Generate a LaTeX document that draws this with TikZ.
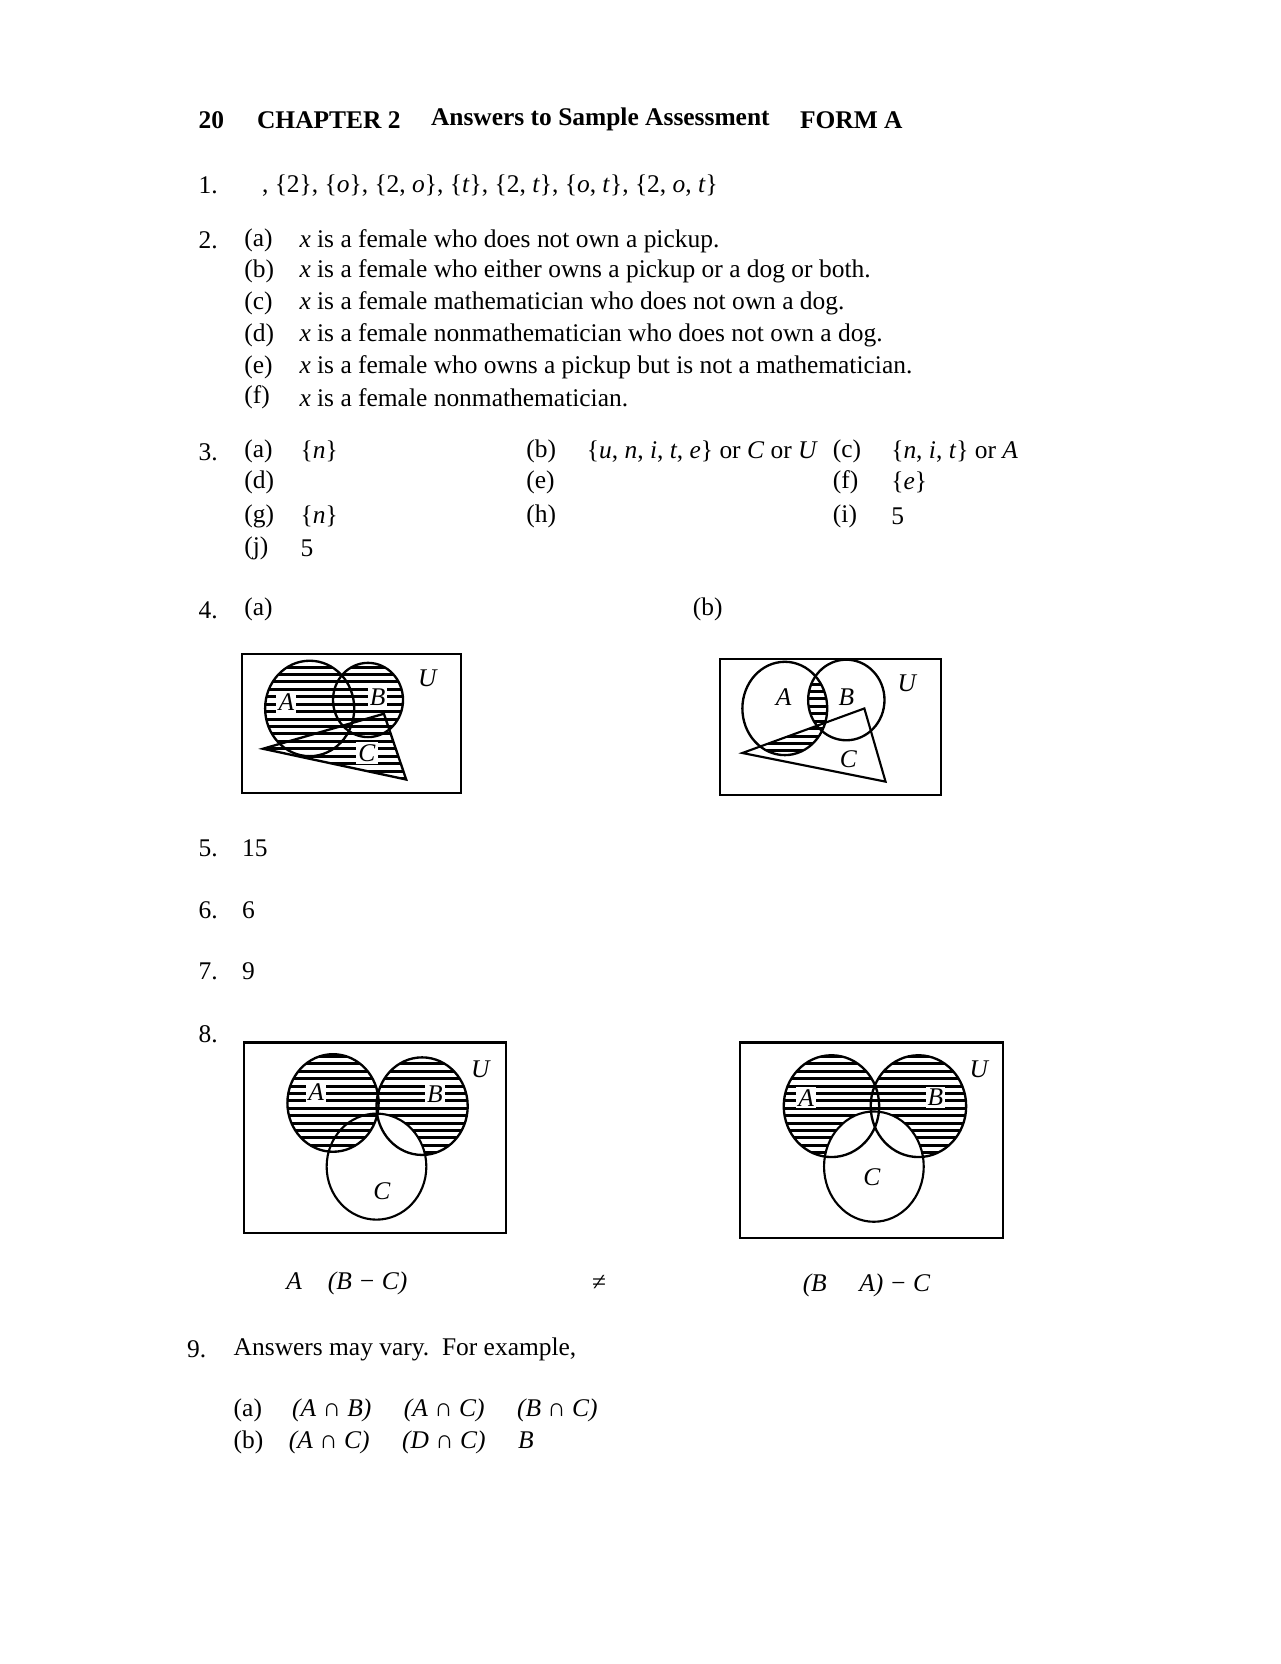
\documentclass[tikz,border=0pt]{standalone}
\usepackage{fontspec}
\setmainfont{Liberation Serif}
\begin{document}
\begin{tikzpicture}[x=0.5pt,y=-0.5pt,
  t/.style={anchor=west,inner sep=0pt,font=\fontsize{12}{14}\selectfont},
  hd/.style={anchor=west,inner sep=0pt,font=\fontsize{12}{14}\selectfont\bfseries},
  lab/.style={inner sep=0pt,font=\fontsize{12}{14}\selectfont\itshape},
  ub/.style={draw,line width=1pt},
  sh/.style={draw,line width=1.1pt}]
\useasboundingbox (0,0) rectangle (1207,1569);
\newcommand{\hatchlines}[4]{\pgfmathtruncatemacro\nnh{(#4-#2)/7}\foreach \kk in {0,...,\nnh}{\draw[line width=1.4pt] (#1,#2+7*\kk) -- (#3,#2+7*\kk);}}
% header
\node[hd] (h1) at (187,113) {20};
\node[hd] (h2) at (242,113) {CHAPTER 2};
\node[hd] (h3) at (406,113) {Answers to Sample Assessment};
\node[hd] (h4) at (754,113) {FORM A};
% Q1
\node[t] (q1) at (187,175) {1.};
\node[t] (q1a) at (228,175) {∅, \{2\}, \{\textit{o}\}, \{2, \textit{o}\}, \{\textit{t}\}, \{2, \textit{t}\}, \{\textit{o}, \textit{t}\}, \{2, \textit{o}, \textit{t}\}};
% Q2
\node[t] (q2) at (187,227) {2.};
\foreach \l/\yy/\txt in {a/227/{\textit{x} is a female who does not own a pickup.},
 b/256/{\textit{x} is a female who either owns a pickup or a dog or both.},
 c/286/{\textit{x} is a female mathematician who does not own a dog.},
 d/316/{\textit{x} is a female nonmathematician who does not own a dog.},
 e/346/{\textit{x} is a female who owns a pickup but is not a mathematician.},
 f/375/{\textit{x} is a female nonmathematician.}}{
 \node[t] (q2\l) at (230,\yy) {(\l)};
 \node[t] (q2\l t) at (282,\yy) {\txt};}
% Q3
\node[t] (q3) at (187,426) {3.};
\node[t] (q3a) at (230,426) {(a)}; \node[t] (q3at) at (283,426) {\{\textit{n}\}};
\node[t] (q3b) at (496,426) {(b)}; \node[t] (q3bt) at (553,426) {\{\textit{u}, \textit{n}, \textit{i}, \textit{t}, \textit{e}\} or \textit{C} or \textit{U}};
\node[t] (q3c) at (785,426) {(c)}; \node[t] (q3ct) at (840,426) {\{\textit{n}, \textit{i}, \textit{t}\} or \textit{A}};
\node[t] (q3d) at (230,455) {(d)}; \node[t] (q3dt) at (283,455) {∅};
\node[t] (q3e) at (496,455) {(e)}; \node[t] (q3et) at (553,455) {∅};
\node[t] (q3f) at (785,455) {(f)}; \node[t] (q3ft) at (840,455) {\{\textit{e}\}};
\node[t] (q3g) at (230,487) {(g)}; \node[t] (q3gt) at (283,487) {\{\textit{n}\}};
\node[t] (q3h) at (496,487) {(h)}; \node[t] (q3ht) at (553,487) {∅};
\node[t] (q3i) at (785,487) {(i)}; \node[t] (q3it) at (840,487) {5};
\node[t] (q3j) at (230,517) {(j)}; \node[t] (q3jt) at (283,517) {5};
% Q4
\node[t] (q4) at (187,575) {4.};
\node[t] (q4a) at (230,575) {(a)};
\node[t] (q4b) at (653,575) {(b)};
% 4a
\draw[ub] (228,617) rectangle (435,748);
\begin{scope}\clip (292,668) ellipse [x radius=42,y radius=45]; \hatchlines{240}{622}{430}{745}\end{scope}
\begin{scope}\clip (347,660) ellipse [x radius=33,y radius=35]; \hatchlines{240}{622}{430}{745}\end{scope}
\begin{scope}\clip (248,706) -- (362,673) -- (383,735) -- cycle; \hatchlines{240}{622}{430}{745}\end{scope}
\draw[sh] (292,668) ellipse [x radius=42,y radius=45];
\draw[sh] (347,660) ellipse [x radius=33,y radius=35];
\draw[sh] (248,706) -- (362,673) -- (383,735) -- cycle;
\node[lab,fill=white,inner sep=1pt] (la) at (270,662) {A};
\node[lab,fill=white,inner sep=1pt] (lb) at (356,657) {B};
\node[lab,fill=white,inner sep=1pt] (lc) at (346,710) {C};
\node[lab] (lu) at (403,640) {U};
% 4b
\draw[ub] (679,621) rectangle (887,750);
\begin{scope}\clip (740,668) ellipse [x radius=40,y radius=44]; \clip (798,660) ellipse [x radius=36,y radius=38]; \hatchlines{680}{624}{885}{748}\end{scope}
\begin{scope}\clip (740,668) ellipse [x radius=40,y radius=44]; \clip (700,710) -- (815,668) -- (835,737) -- cycle; \hatchlines{680}{624}{885}{748}\end{scope}
\draw[sh] (740,668) ellipse [x radius=40,y radius=44];
\draw[sh] (798,660) ellipse [x radius=36,y radius=38];
\draw[ub] (700,710) -- (815,668) -- (835,737) -- cycle;
\node[lab] (lba) at (739,657) {A};
\node[lab] (lbb) at (798,657) {B};
\node[lab] (lbc) at (800,716) {C};
\node[lab] (lbu) at (855,644) {U};
% Q5-8
\node[t] (q5) at (187,800) {5.}; \node[t] (q5t) at (228,800) {15};
\node[t] (q6) at (187,858) {6.}; \node[t] (q6t) at (228,858) {6};
\node[t] (q7) at (187,916) {7.}; \node[t] (q7t) at (228,916) {9};
\node[t] (q8) at (187,975) {8.};
% 8 left
\draw[ub] (230,983) rectangle (477,1163);
\begin{scope}\clip (314,1040) ellipse [x radius=43,y radius=46]; \hatchlines{240}{996}{470}{1160}\end{scope}
\begin{scope}[even odd rule]\clip (230,983) rectangle (477,1163) (355,1100) ellipse [x radius=47,y radius=50];
 \clip (398,1043) ellipse [x radius=43,y radius=46]; \hatchlines{240}{996}{470}{1160}\end{scope}
\draw[sh] (314,1040) ellipse [x radius=43,y radius=46];
\draw[sh] (398,1043) ellipse [x radius=43,y radius=46];
\draw[ub] (355,1100) ellipse [x radius=47,y radius=50];
\node[lab,fill=white,inner sep=1pt] (l8a) at (298,1030) {A};
\node[lab,fill=white,inner sep=1pt] (l8b) at (410,1032) {B};
\node[lab] (l8c) at (360,1123) {C};
\node[lab] (l8u) at (453,1008) {U};
% 8 right
\draw[ub] (698,983) rectangle (946,1167);
\begin{scope}[even odd rule]\clip (698,983) rectangle (946,1167) (824,1100) ellipse [x radius=47,y radius=52];
 \begin{scope}\clip (784,1043) ellipse [x radius=45,y radius=48]; \hatchlines{700}{996}{944}{1165}\end{scope}
 \begin{scope}\clip (866,1043) ellipse [x radius=45,y radius=48]; \hatchlines{700}{996}{944}{1165}\end{scope}
\end{scope}
\draw[sh] (784,1043) ellipse [x radius=45,y radius=48];
\draw[sh] (866,1043) ellipse [x radius=45,y radius=48];
\draw[ub] (824,1100) ellipse [x radius=47,y radius=52];
\node[lab,fill=white,inner sep=1pt] (r8a) at (760,1035) {A};
\node[lab,fill=white,inner sep=1pt] (r8b) at (882,1035) {B};
\node[lab] (r8c) at (822,1110) {C};
\node[lab] (r8u) at (923,1008) {U};
% captions
\node[lab,anchor=center] (c1) at (327,1210) {A ∪(B − C)};
\node[t,anchor=center] (c2) at (565,1210) {≠};
\node[lab,anchor=center] (c3) at (817,1212) {(B ∪ A) − C};
% Q9
\node[t] (q9) at (176,1272) {9.};
\node[t] (q9t) at (220,1272) {Answers may vary.\ \ For example,};
\node[t] (q9a) at (220,1330) {(a)};
\node[t] (q9at) at (275,1330) {\textit{(A} ∩ \textit{B)} ∪ \textit{(A} ∩ \textit{C)} ∪ \textit{(B} ∩ \textit{C)}};
\node[t] (q9b) at (220,1360) {(b)};
\node[t] (q9bt) at (272,1360) {\textit{(A} ∩ \textit{C)} ∪ \textit{(D} ∩ \textit{C)} ∪ \textit{B}};
\end{tikzpicture}
\end{document}
